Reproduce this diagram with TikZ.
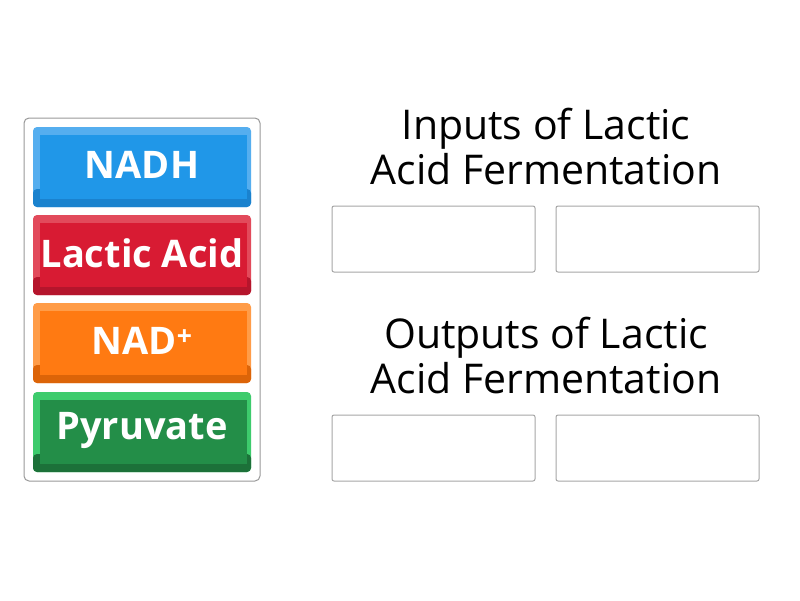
\documentclass[tikz,border=0pt]{standalone}
\usepackage{fontspec}
\setmainfont{Open Sans}
\definecolor{nadhlight}{HTML}{55AEEF}
\definecolor{nadhface}{HTML}{2097E8}
\definecolor{nadhdark}{HTML}{1A82CE}
\definecolor{lacticlight}{HTML}{E24A5B}
\definecolor{lacticface}{HTML}{D81B33}
\definecolor{lacticdark}{HTML}{B5152C}
\definecolor{nadlight}{HTML}{FF9C48}
\definecolor{nadface}{HTML}{FF7A12}
\definecolor{naddark}{HTML}{DC6408}
\definecolor{pyrlight}{HTML}{3DCB6C}
\definecolor{pyrface}{HTML}{238E48}
\definecolor{pyrdark}{HTML}{1C7139}
\tikzset{
  tiletext/.style={text=white, font=\fontsize{38}{40}\selectfont\bfseries, inner sep=0pt},
  dropbox/.style={draw=black!35, line width=1pt, rounded corners=2pt, minimum width=203pt, minimum height=66pt, inner sep=0pt},
  boxtitle/.style={align=center, font=\fontsize{41}{45}\selectfont, inner sep=0pt}
}
\begin{document}
\begin{tikzpicture}[x=1pt,y=-1pt]
  \useasboundingbox[fill=white] (0,0) rectangle (800,600);
  \def\tilew{218}
  \def\tileh{80}
  % tray of tiles
  \draw[black!40, line width=1pt, rounded corners=5pt] (24,118) rectangle (260,481);
  \foreach \y/\name/\txt in {127/nadh/NADH, 215/lactic/Lactic Acid, 303/nad/NAD\textsuperscript{+}, 392/pyr/Pyruvate} {
      \fill[\name light, rounded corners=4pt] (33,\y) rectangle +(\tilew,\tileh);
      \fill[\name dark, rounded corners=4pt] (33,\y+62) rectangle +(\tilew,18);
      \fill[\name face] (40,\y+8) rectangle (247,\y+72);
      \node[tiletext] (\name) at (142,\y+38) {\txt};
  }
  % targets
  \node[boxtitle] (intitle) at (546,147) {Inputs of Lactic\\Acid Fermentation};
  \node[dropbox] (inA) at (433.5,239) {};
  \node[dropbox] (inB) at (657.5,239) {};
  \node[boxtitle] (outtitle) at (546,356) {Outputs of Lactic\\Acid Fermentation};
  \node[dropbox] (outA) at (433.5,448) {};
  \node[dropbox] (outB) at (657.5,448) {};
\end{tikzpicture}
\end{document}
